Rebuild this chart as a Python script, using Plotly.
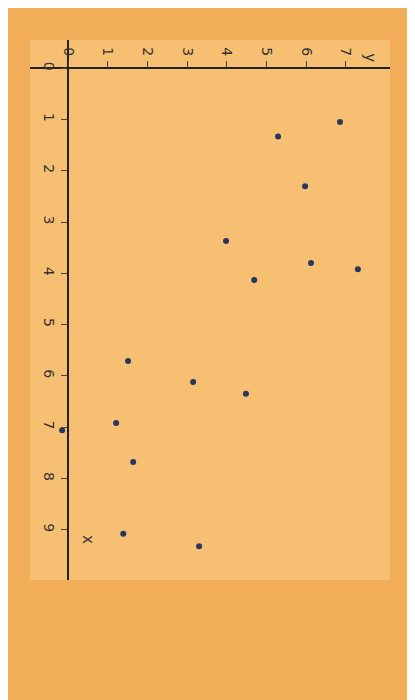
import plotly.graph_objects as go

x_vals = [1.05, 1.33, 2.3, 3.37, 3.8, 3.92, 4.13, 5.71, 6.12, 6.35, 6.92, 7.06, 7.68, 9.08, 9.32]
y_vals = [6.85, 5.29, 5.97, 3.98, 6.12, 7.3, 4.69, 1.51, 3.15, 4.48, 1.21, -0.15, 1.64, 1.39, 3.3]
ticks_x = list(range(0, 10))
ticks_y = list(range(0, 8))

fig = go.Figure()
fig.add_trace(go.Scatter(x=y_vals, y=x_vals, mode="markers",
                         marker=dict(color="#2a3560", size=6)))
fig.update_layout(
    width=415, height=700, showlegend=False,
    paper_bgcolor="#f2ad58", plot_bgcolor="#f6bf72",
    margin=dict(l=22, r=33, t=32, b=128),
    font=dict(family="DejaVu Sans", size=14, color="#333"),
    xaxis=dict(range=[-0.96, 8.11], tickvals=ticks_y, ticktext=[str(t) for t in ticks_y],
               side="top", anchor="free", position=0.948, showgrid=False, zeroline=False,
               showline=True, linecolor="#222", linewidth=2, ticks="outside", ticklen=6,
               tickangle=90),
    yaxis=dict(range=[9.98, -0.55], tickvals=ticks_x, ticktext=[str(t) for t in ticks_x],
               anchor="free", position=0.106, showgrid=False, zeroline=False,
               showline=True, linecolor="#222", linewidth=2, ticks="outside", ticklen=6,
               tickangle=90),
    annotations=[
        dict(x=7.6, y=-0.2, text="y", showarrow=False, textangle=90, font=dict(size=15)),
        dict(x=0.5, y=9.2, text="x", showarrow=False, textangle=90, font=dict(size=15)),
    ],
)
fig.write_html("out.html")
